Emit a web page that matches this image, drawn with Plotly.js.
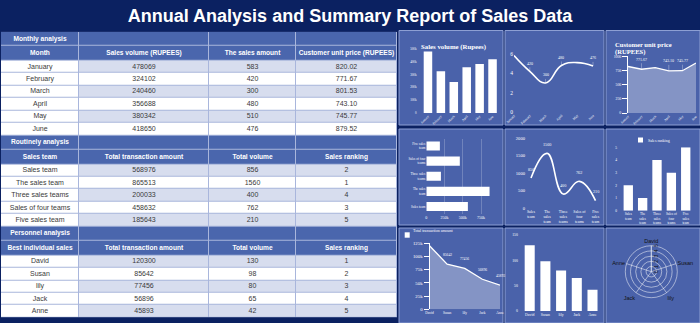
<!DOCTYPE html>
<html><head><meta charset="utf-8">
<script src="https://cdn.plot.ly/plotly-3.0.1.min.js"></script>
<style>html,body{margin:0;padding:0;background:#0b2161;overflow:hidden}#chart{width:700px;height:323px;}</style>
</head><body><div id="chart"></div>
<script>
// ---- data ----
const months = ['January','February','March','April','May','June'];
const salesVolume = [478069,324102,240460,356688,380342,418650];
const salesAmount = [583,420,300,480,510,476];
const unitPrice = [820.02,771.67,801.53,743.10,745.77,879.52];
const teams = ['Sales team','The sales team','Three sales teams','Sales of four teams','Five sales team'];
const teamLabelsBar = ['Sales team','The sales<br>team','Three sales<br>teams','Sales of four<br>teams','Five sales<br>team'];
const teamLabelsCol = ['Sales<br>team','The<br>sales<br>team','Three<br>sales<br>teams','Sales of<br>four<br>teams','Five<br>sales<br>team'];
const teamAmount = [568976,865513,200033,458632,185643];
const teamVolume = [856,1560,400,762,210];
const teamRank = [2,1,4,3,5];
const people = ['David','Susan','lily','Jack','Anne'];
const personAmount = [120300,85642,77456,56896,45893];
const personVolume = [130,98,80,65,42];
const personRank = [1,2,3,4,5];
const amountLabelIdx = [1,2,3,5];
const priceLabelIdx = [1,3,4];
const personLabelIdx = [1,2,3,4];
const sectionTitles = ['Monthly analysis','Routinely analysis','Personnel analysis'];
const monthlyHeaders = ['Month','Sales volume (RUPEES)','The sales amount','Customer unit price (RUPEES)'];
const teamHeaders = ['Sales team','Total transaction amount','Total volume','Sales ranking'];
const personHeaders = ['Best individual sales','Total transaction amount','Total volume','Sales ranking'];

// ---- helpers ----
const W = 700, H = 323;
const dx = (a,b) => [a/W, b/W];
const dy = (top,bot) => [1-bot/H, 1-top/H];
const SERIF = 'Liberation Serif, Times New Roman, serif';
const SANS = 'Liberation Sans, Arial, sans-serif';
const WHITE = '#ffffff';
const tf = s => ({family: SERIF, size: s, color: WHITE});
const NAVY = '#0b2161', PANEL = '#4a62aa', PANEL_LINE = '#8d9fd3';

// ---- table (heatmap cells + text) ----
const sections = [
  {title: sectionTitles[0], headers: monthlyHeaders, cols: [months, salesVolume, salesAmount, unitPrice.map(v => v.toFixed(2))]},
  {title: sectionTitles[1], headers: teamHeaders, cols: [teams, teamAmount, teamVolume, teamRank]},
  {title: sectionTitles[2], headers: personHeaders, cols: [people, personAmount, personVolume, personRank]}
];
const COL_EDGES = [0, 78, 208, 295, 396];
const HDR_H = 14.45, ROW_H = 12.45;
const colMid = COL_EDGES.slice(0, -1).map((e, i) => (e + COL_EDGES[i + 1]) / 2);
const yEdges = [0], z = [];
const hx = [], hy = [], ht = [], bx = [], by = [], bt = [];
function addRow(h, kind, cells){
  const y0 = yEdges[yEdges.length - 1];
  yEdges.push(y0 + h);
  const mid = y0 + h / 2;
  if (kind === 'hdr') {
    z.push([2, 2, 2, 2]);
    cells.forEach((c, j) => { if (c !== '') { hx.push(colMid[j]); hy.push(mid); ht.push('<b>' + c + '</b>'); } });
  } else {
    z.push([0, kind, kind, kind]);
    cells.forEach((c, j) => { bx.push(colMid[j]); by.push(mid); bt.push(String(c)); });
  }
}
sections.forEach(s => {
  addRow(HDR_H, 'hdr', [s.title, '', '', '']);
  addRow(HDR_H, 'hdr', s.headers);
  s.cols[0].forEach((_, i) => addRow(ROW_H, i % 2 === 0 ? 1 : 0, s.cols.map(c => c[i])));
});
const tableH = yEdges[yEdges.length - 1];

// ---- chart traces ----
const traces = [
  {type:'heatmap', x: COL_EDGES, y: yEdges, z: z, xaxis:'x9', yaxis:'y9', zmin:0, zmax:2, showscale:false, xgap:1, ygap:1,
    colorscale:[[0,'#ffffff'],[0.5,'#d7ddee'],[1,'#4a66ad']], hoverinfo:'none'},
  {type:'scatter', mode:'text', x: hx, y: hy, text: ht, xaxis:'x9', yaxis:'y9', cliponaxis:false,
    textfont:{family:SANS, size:6.6, color:WHITE}, hoverinfo:'none'},
  {type:'scatter', mode:'text', x: bx, y: by, text: bt, xaxis:'x9', yaxis:'y9', cliponaxis:false,
    textfont:{family:SANS, size:7, color:'#3a3a3a'}, hoverinfo:'none'},
  {type:'bar', x: months, y: salesVolume, xaxis:'x', yaxis:'y', marker:{color:WHITE}, width:0.66, hoverinfo:'none'},
  {type:'scatter', mode:'lines', x: months, y: salesAmount, xaxis:'x2', yaxis:'y2', line:{color:WHITE, width:1.6, shape:'spline', smoothing:1.3}, hoverinfo:'none'},
  {type:'scatter', mode:'lines', x: months, y: unitPrice, xaxis:'x3', yaxis:'y3', fill:'tozeroy', fillcolor:'rgba(255,255,255,0.32)', line:{color:WHITE, width:1.3}, hoverinfo:'none'},
  {type:'bar', orientation:'h', y: teams, x: teamAmount, xaxis:'x4', yaxis:'y4', marker:{color:WHITE}, width:0.6, hoverinfo:'none'},
  {type:'scatter', mode:'lines', x: teams, y: teamVolume, xaxis:'x5', yaxis:'y5', line:{color:WHITE, width:1.6, shape:'spline', smoothing:1.3}, hoverinfo:'none'},
  {type:'bar', x: teams, y: teamRank, xaxis:'x6', yaxis:'y6', marker:{color:WHITE}, width:0.65, hoverinfo:'none'},
  {type:'scatter', mode:'lines', x: people, y: personAmount, xaxis:'x7', yaxis:'y7', fill:'tozeroy', fillcolor:'rgba(255,255,255,0.32)', line:{color:WHITE, width:1.3}, hoverinfo:'none'},
  {type:'bar', x: people, y: personVolume, xaxis:'x8', yaxis:'y8', marker:{color:WHITE}, width:0.64, hoverinfo:'none'},
  {type:'scatterpolar', r: personRank, theta: people, mode:'lines', line:{color:'rgba(0,0,0,0)'}, subplot:'polar', hoverinfo:'none'}
];

const base = {showgrid:false, zeroline:false, showline:false, ticks:'', fixedrange:true};
const cat = (dom, anchor, extra) => Object.assign({}, base, {domain: dom, anchor: anchor, type:'category'}, extra);
const lin = (dom, anchor, extra) => Object.assign({}, base, {domain: dom, anchor: anchor}, extra);

// ---- panels ----
const panels = [[399,503,30.5,125],[505,604,30.5,125],[606,700,30.5,125],
                [399,503,129,225],[505,604,129,225],[606,700,129,225],
                [399,503,228,323],[505,604,228,323],[606,700,228,323]];
const shapes = panels.map(p => ({type:'rect', xref:'paper', yref:'paper', layer:'below',
  x0:p[0]/W, x1:p[1]/W, y0:1-p[3]/H, y1:1-p[2]/H, fillcolor:PANEL, line:{color:PANEL_LINE, width:1}}));
shapes.push({type:'rect', xref:'paper', yref:'paper', x0:638/W, x1:643/W, y0:1-142.5/H, y1:1-137.5/H, fillcolor:WHITE, line:{width:0}});
shapes.push({type:'rect', xref:'paper', yref:'paper', x0:404.7/W, x1:409.7/W, y0:1-237.7/H, y1:1-232.3/H, fillcolor:WHITE, line:{width:0}});
shapes.push({type:'rect', xref:'x9', yref:'y9', layer:'below', x0:COL_EDGES[0], x1:COL_EDGES[COL_EDGES.length-1], y0:0, y1:tableH,
  fillcolor:'#a9b6dc', line:{width:0}});

// ---- annotations ----
const ann = [];
const txt = (x, y, text, size, extra) => ann.push(Object.assign({xref:'paper', yref:'paper', x:x/W, y:1-y/H, text:text, showarrow:false, font:{family:SERIF, size:size, color:WHITE}}, extra||{}));
txt(453, 40.5, '<b>Sales volume (Rupees)</b>', 6.8);
txt(613, 39, '<b>Customer unit price</b>', 6.6, {xanchor:'left'});
txt(613, 46, '<b>(RUPEES)</b>', 6.6, {xanchor:'left'});
txt(646.3, 140, 'Sales ranking', 4, {xanchor:'left'});
txt(411.3, 235, 'Total transaction amount', 4, {xanchor:'left'});
amountLabelIdx.forEach(i => ann.push({xref:'x2', yref:'y2', x: months[i], y: salesAmount[i], text: String(salesAmount[i]),
  showarrow:true, arrowhead:0, arrowwidth:0.6, arrowcolor:'rgba(255,255,255,0.55)', ax:0, ay:-8, font:tf(4)}));
priceLabelIdx.forEach(i => ann.push({xref:'x3', yref:'y3', x: months[i], y: unitPrice[i], text: unitPrice[i].toFixed(2),
  showarrow:true, arrowhead:0, arrowwidth:0.6, arrowcolor:'rgba(255,255,255,0.55)', ax:0, ay:-10, font:tf(4)}));
teams.forEach((t, i) => ann.push({xref:'x5', yref:'y5', x: t, y: teamVolume[i], text: String(teamVolume[i]),
  showarrow:false, yshift:9, font:tf(4.2)}));
personLabelIdx.forEach(i => ann.push({xref:'x7', yref:'y7', x: people[i], y: personAmount[i], text: String(personAmount[i]),
  showarrow:false, yshift:9, font:tf(3.6)}));

const layout = {
  width: W, height: H, margin: {l:0, r:0, t:0, b:0},
  paper_bgcolor: NAVY, plot_bgcolor: 'rgba(0,0,0,0)', showlegend: false,
  title: {text:'<b>Annual Analysis and Summary Report of Sales Data</b>', x:0.5, xanchor:'center', y:1-16/H, yanchor:'middle',
    font:{family:'Liberation Sans, Arial, sans-serif', size:18, color:WHITE}},
  xaxis9: Object.assign({}, base, {domain: dx(1, 397), anchor:'y9', range:[COL_EDGES[0], COL_EDGES[COL_EDGES.length-1]], showticklabels:false}),
  yaxis9: Object.assign({}, base, {domain: dy(31.7, 31.7 + tableH), anchor:'x9', range:[tableH, 0], showticklabels:false}),
  xaxis: cat(dx(421.5,499), 'y', {tickangle:-45, tickfont:tf(3.2)}),
  yaxis: lin(dy(48.7,113), 'x', {range:[0,500000], dtick:100000, tickfont:tf(3.2), ticklabelstandoff:4}),
  xaxis2: cat(dx(514,598), 'y2', {tickangle:-45, tickfont:tf(3.4)}),
  yaxis2: lin(dy(50,112), 'x2', {range:[0,640], tickvals:[0,200,400,600], ticktext:['0','2','4','6'], tickfont:tf(5.5)}),
  xaxis3: cat(dx(628,696), 'y3', {range:[0,5], tickangle:-45, tickfont:tf(3.2)}),
  yaxis3: lin(dy(56.3,113), 'x3', {range:[0,1000], dtick:250, ticks:'outside', ticklen:5, tickcolor:WHITE, tickwidth:1, showline:true, linecolor:WHITE, linewidth:1, tickfont:tf(3.8)}),
  xaxis4: lin(dx(426.3,495), 'y4', {range:[0,940000], dtick:250000, showgrid:true, gridcolor:'rgba(255,255,255,0.35)', gridwidth:0.6, tickfont:tf(4)}),
  yaxis4: cat(dy(138.5,214), 'x4', {tickvals:teams, ticktext:teamLabelsBar, tickfont:tf(3.3)}),
  xaxis5: cat(dx(526,600.5), 'y5', {tickvals:teams, ticktext:teamLabelsCol, tickfont:tf(3.8)}),
  yaxis5: lin(dy(138,208), 'x5', {range:[0,2000], dtick:500, tickfont:tf(4.6)}),
  xaxis6: cat(dx(621.1,692.9), 'y6', {tickvals:teams, ticktext:teamLabelsCol, tickfont:tf(3.4)}),
  yaxis6: lin(dy(147.3,210.7), 'x6', {range:[0,5], dtick:1, tickfont:tf(3.5), ticklabelstandoff:3}),
  xaxis7: cat(dx(429.5,500), 'y7', {range:[0,4], tickfont:tf(3.5)}),
  yaxis7: lin(dy(243.3,309.3), 'x7', {range:[0,125000], dtick:25000, ticks:'outside', ticklen:5, tickcolor:WHITE, tickwidth:1, showline:true, linecolor:WHITE, linewidth:1, tickfont:tf(4.8)}),
  xaxis8: cat(dx(521.85,600.35), 'y8', {tickfont:tf(3.8)}),
  yaxis8: lin(dy(235,311), 'x8', {range:[0,150], dtick:50, tickfont:tf(3.8), ticklabelstandoff:3}),
  polar: {domain:{x:dx(625.3,677.3), y:dy(245.7,297.7)}, bgcolor:'rgba(0,0,0,0)',
    radialaxis:{range:[0,5], dtick:1, angle:90, tickangle:0, showline:true, linecolor:'rgba(255,255,255,0.5)', gridcolor:'rgba(255,255,255,0.5)', ticks:'', tickfont:{family:SANS, size:5, color:'#111111'}},
    angularaxis:{rotation:90, direction:'clockwise', linecolor:'rgba(255,255,255,0.5)', gridcolor:'rgba(255,255,255,0.5)', ticks:'', tickfont:{family:SANS, size:5.5, color:'#111111'}}},
  shapes: shapes, annotations: ann
};
Plotly.newPlot('chart', traces, layout, {displayModeBar:false, staticPlot:true});
</script></body></html>
